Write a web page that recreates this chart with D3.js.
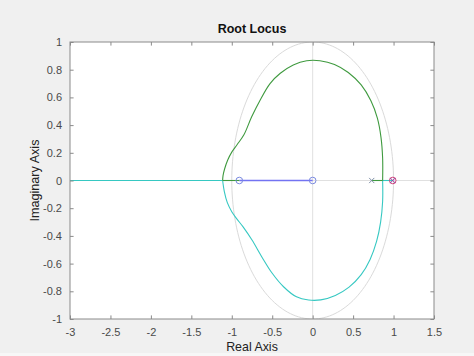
<!DOCTYPE html>
<html><head><meta charset="utf-8">
<script src="https://cdn.jsdelivr.net/npm/d3@7"></script>
<style>html,body{margin:0;padding:0;background:#f0f0f0;}svg{display:block;}</style>
</head><body>
<svg id="c" width="474" height="356"></svg>
<script>
// ---- data ----
const xTicks = [-3,-2.5,-2,-1.5,-1,-0.5,0,0.5,1,1.5];
const yTicks = [-1,-0.8,-0.6,-0.4,-0.2,0,0.2,0.4,0.6,0.8,1];
const xTickLabels = ["-3","-2.5","-2","-1.5","-1","-0.5","0","0.5","1","1.5"];
const yTickLabels = ["-1","-0.8","-0.6","-0.4","-0.2","0","0.2","0.4","0.6","0.8","1"];
// upper complex branch (green): from pole at 0.73, breakaway 0.865, break-in -1.113, ends at zero -0.907
const greenRe = [0.73,0.865,0.865,0.845,0.80,0.72,0.60,0.44,0.27,0.09,-0.074,-0.24,-0.40,-0.527,-0.65,-0.754,-0.850,-0.935,-1.0,-1.05,-1.088,-1.108,-1.113,-0.907];
const greenIm = [0,0,0.16,0.31,0.45,0.575,0.69,0.78,0.838,0.865,0.865,0.834,0.774,0.70,0.58,0.46,0.33,0.258,0.205,0.148,0.085,0.035,0,0];
// lower complex branch (cyan): from pole near 1, breakaway 0.865, break-in -1.113, to -infinity
const cyanRe = [0.99,0.865,0.865,0.84,0.79,0.71,0.60,0.45,0.28,0.10,-0.05,-0.20,-0.36,-0.50,-0.63,-0.75,-0.86,-0.94,-1.0,-1.055,-1.092,-1.113,-3.2];
const cyanIm = [0,0,-0.15,-0.30,-0.44,-0.57,-0.68,-0.77,-0.83,-0.862,-0.863,-0.84,-0.767,-0.67,-0.55,-0.43,-0.335,-0.275,-0.225,-0.16,-0.08,0,0];
// real-axis branch (blue): between zeros
const blueRe = [0, -0.907];
const blueIm = [0, 0];
const zerosRe = [-0.907, 0, 0.99];
const polesRe = [0.73, 0.99];

// ---- layout ----
const L = 70, R = 434, T = 42, B = 319;
const svg = d3.select("#c");
svg.append("rect").attr("x",0).attr("y",0).attr("width",474).attr("height",356).attr("fill","#f0f0f0");
svg.append("rect").attr("x",0).attr("y",353).attr("width",474).attr("height",3).attr("fill","#f7f7f7");
const x = d3.scaleLinear().domain([-3,1.5]).range([L,R]);
const y = d3.scaleLinear().domain([-1,1]).range([B,T]);

svg.append("rect").attr("x",L).attr("y",T).attr("width",R-L).attr("height",B-T).attr("fill","#ffffff");

const defs = svg.append("defs");
defs.append("clipPath").attr("id","clip").append("rect").attr("x",L).attr("y",T).attr("width",R-L).attr("height",B-T);
const g = svg.append("g").attr("clip-path","url(#clip)");

// grid: unit circle and axes
const circ = d3.range(0,361,2).map(a=>[Math.cos(a*Math.PI/180),Math.sin(a*Math.PI/180)]);
const lineXY = d3.line().x(d=>x(d[0])).y(d=>y(d[1]));
g.append("path").attr("d",lineXY(circ)+"Z").attr("fill","none").attr("stroke","#dadada").attr("stroke-width",1);
g.append("line").attr("x1",x(0)).attr("x2",x(0)).attr("y1",T).attr("y2",B).attr("stroke","#e0e0e0");
g.append("line").attr("x1",L).attr("x2",R).attr("y1",y(0)).attr("y2",y(0)).attr("stroke","#e0e0e0");

const curveLine = d3.line().x(d=>x(d[0])).y(d=>y(d[1])).curve(d3.curveCatmullRom.alpha(0.5));
const straight = d3.line().x(d=>x(d[0])).y(d=>y(d[1]));

// blue branch
g.append("path").attr("d",straight(d3.zip(blueRe,blueIm))).attr("fill","none").attr("stroke","#7373f2").attr("stroke-width",1.6);

// cyan branch: real-axis piece, curve, real-axis left piece
const cy = d3.zip(cyanRe,cyanIm);
g.append("path").attr("d",straight(cy.slice(0,2))).attr("fill","none").attr("stroke","#36c8c2").attr("stroke-width",1.1);
g.append("path").attr("d",curveLine(cy.slice(1,cy.length-1))).attr("fill","none").attr("stroke","#36c8c2").attr("stroke-width",1.1);
g.append("path").attr("d",straight(cy.slice(cy.length-2))).attr("fill","none").attr("stroke","#36c8c2").attr("stroke-width",1.1);

// green branch
const gr = d3.zip(greenRe,greenIm);
g.append("path").attr("d",straight(gr.slice(0,2))).attr("fill","none").attr("stroke","#3f9a3f").attr("stroke-width",1.1);
g.append("path").attr("d",curveLine(gr.slice(1,gr.length-1))).attr("fill","none").attr("stroke","#3f9a3f").attr("stroke-width",1.1);
g.append("path").attr("d",straight(gr.slice(gr.length-2))).attr("fill","none").attr("stroke","#3f9a3f").attr("stroke-width",1.1);

// markers
zerosRe.forEach((z,i)=>{
  g.append("circle").attr("cx",x(z)).attr("cy",y(0)).attr("r",3.3)
   .attr("fill","none").attr("stroke", i===2 ? "#d0407a" : "#7a8ae0").attr("stroke-width",1);
});
polesRe.forEach((p,i)=>{
  const s=2.6, cx=x(p), cyy=y(0);
  const col = i===1 ? "#9040a0" : "#8090a8";
  g.append("path").attr("d",`M${cx-s},${cyy-s}L${cx+s},${cyy+s}M${cx-s},${cyy+s}L${cx+s},${cyy-s}`)
   .attr("stroke",col).attr("stroke-width",1).attr("fill","none");
});

// axes box and ticks
const axCol = "#8a8a8a";
svg.append("rect").attr("x",L).attr("y",T).attr("width",R-L).attr("height",B-T).attr("fill","none").attr("stroke",axCol).attr("stroke-width",1);
const tl = 3.6;
const axB = d3.axisBottom(x).tickValues(xTicks).tickFormat((d,i)=>xTickLabels[i]).tickSizeInner(-tl).tickSizeOuter(0).tickPadding(9);
const gB = svg.append("g").attr("transform",`translate(0,${B})`).call(axB);
const axT = d3.axisTop(x).tickValues(xTicks).tickFormat("").tickSizeInner(-tl).tickSizeOuter(0);
const gT = svg.append("g").attr("transform",`translate(0,${T})`).call(axT);
const axL = d3.axisLeft(y).tickValues(yTicks).tickFormat((d,i)=>yTickLabels[i]).tickSizeInner(-tl).tickSizeOuter(0).tickPadding(8);
const gL = svg.append("g").attr("transform",`translate(${L},0)`).call(axL);
const axR = d3.axisRight(y).tickValues(yTicks).tickFormat("").tickSizeInner(-tl).tickSizeOuter(0);
const gR = svg.append("g").attr("transform",`translate(${R},0)`).call(axR);
[gB,gT,gL,gR].forEach(a=>{
  a.select(".domain").remove();
  a.selectAll(".tick line").attr("stroke",axCol);
  a.selectAll("text").attr("fill","#4a4a4a").style("font-family","'Liberation Sans', Arial, sans-serif").style("font-size","11px");
});

// titles
svg.append("text").attr("x",(L+R)/2).attr("y",32.5).attr("text-anchor","middle")
  .style("font-family","'Liberation Sans', Arial, sans-serif").style("font-size","12.5px").style("font-weight","bold").attr("fill","#111")
  .text("Root Locus");
svg.append("text").attr("x",(L+R)/2).attr("y",351).attr("text-anchor","middle")
  .style("font-family","'Liberation Sans', Arial, sans-serif").style("font-size","12.4px").attr("fill","#222")
  .text("Real Axis");
svg.append("text").attr("transform",`translate(38.5,${(T+B)/2}) rotate(-90)`).attr("text-anchor","middle")
  .style("font-family","'Liberation Sans', Arial, sans-serif").style("font-size","12.6px").attr("fill","#222")
  .text("Imaginary Axis");
</script>
</body></html>
